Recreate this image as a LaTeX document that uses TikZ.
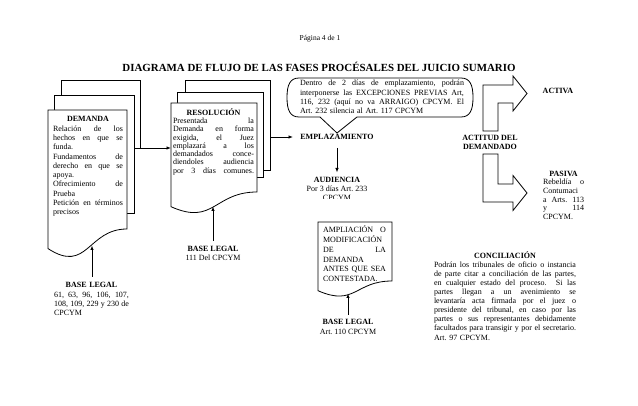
\documentclass[tikz,border=0pt]{standalone}
\usepackage{fontspec}
\setmainfont{Liberation Serif}
\usetikzlibrary{arrows.meta}
\frenchspacing
\newcommand{\jfull}[1]{\makebox[\hsize][s]{\spaceskip=0.25em plus 20em\xspaceskip=0.25em plus 20em\relax #1}}
\newcommand{\jcen}[1]{\makebox[\hsize][c]{#1}}
\newcommand{\jleft}[1]{\makebox[\hsize][l]{#1}}
\tikzset{
  shp/.style={draw=black, fill=white, line width=0.8pt, line join=miter},
  arr/.style={draw=black, line width=0.8pt, -{Latex[length=4.5pt,width=3.5pt]}},
  txt/.style={anchor=north west, inner sep=0pt, outer sep=0pt, align=left},
  one/.style={anchor=base, inner sep=0pt, outer sep=0pt, font=\fontsize{8}{9}\selectfont\bfseries},
}
\begin{document}
\begin{tikzpicture}[x=1pt,y=-1pt]
\fill[white] (0,0) rectangle (638,406);
\useasboundingbox (0,0) rectangle (638,406);

% header
\node[anchor=base, inner sep=0pt] (pag) at (320,40.5) {\fontsize{7.5}{9}\selectfont Página 4 de 1};
\node[anchor=base, inner sep=0pt] (title) at (319,71.8) {\fontsize{10.9}{12}\selectfont\bfseries DIAGRAMA DE FLUJO DE LAS FASES PROCÉSALES DEL JUICIO SUMARIO};

% DEMANDA multidocument
\draw[shp] (61,80) rectangle (140,148);
\draw[shp] (54,95) rectangle (134,213);
\draw[shp] (48,110) -- (127,110) -- (127,229) .. controls (87.5,229) and (87.5,274.3) .. (48,248.6) -- cycle;
\node[txt, text width=70pt, font=\fontsize{8}{9.3}\selectfont] (dem) at (53,115.3) {\strut\jcen{\bfseries DEMANDA}\\
\jfull{Relación de los}\\
\jfull{hechos en que se}\\
\jleft{funda.}\\
\jfull{Fundamentos de}\\
\jfull{derecho en que se}\\
\jleft{apoya.}\\
\jfull{Ofrecimiento de}\\
\jleft{Prueba}\\
\jfull{Petición en términos}\\
\jleft{precisos}};
\coordinate (demout) at (140,148);
\coordinate (demwave) at (92,245.5);

% BASE LEGAL 1
\coordinate (bl1top) at (92,277);
\node[txt, text width=75pt, font=\fontsize{8}{9.3}\selectfont] (bl1) at (54,281.3) {\strut\jcen{\bfseries BASE LEGAL}\\
\jfull{61, 63, 96, 106, 107,}\\
\jfull{108, 109, 229 y 230 de}\\
\jleft{CPCYM}};
\draw[arr] (bl1top) -- (demwave);

% RESOLUCION multidocument
\draw[shp] (185,80) rectangle (270,170);
\draw[shp] (177,92) rectangle (263,177);
\draw[shp] (171,103) -- (257,103) -- (257,192) .. controls (214,192) and (214,225.9) .. (171,206.7) -- cycle;
\node[txt, text width=81pt, font=\fontsize{8}{8.3}\selectfont] (res) at (173,108.3) {\strut\jcen{\bfseries RESOLUCIÓN}\\
\jfull{Presentada la}\\
\jfull{Demanda en forma}\\
\jfull{exigida, el Juez}\\
\jfull{emplazará a los}\\
\jfull{demandados conce-}\\
\jfull{diendoles audiencia}\\
\jfull{por 3 días comunes.}};
\coordinate (resin) at (171,148);
\coordinate (resout) at (270,137);
\coordinate (reswave) at (213,206.5);
\draw[arr] (demout) -- (resin);

% BASE LEGAL 2
\coordinate (bl2top) at (213,241);
\node[anchor=north, inner sep=0pt, align=center, font=\fontsize{8}{9}\selectfont] (bl2) at (213,245.3) {\strut\textbf{BASE LEGAL}\\111 Del CPCYM};
\draw[arr] (bl2top) -- (reswave);

% callout
\draw[shp] (320,117) -- (299,117) .. controls (290,117) and (287,110) .. (287,97.5)
  .. controls (287,85) and (290,78) .. (299,78) -- (461,78)
  .. controls (470,78) and (473,85) .. (473,97.5)
  .. controls (473,110) and (470,117) .. (461,117) -- (357,117) -- (337,133) -- cycle;
\node[txt, text width=164pt, font=\fontsize{8}{9.3}\selectfont] (callout) at (300,79.3) {\strut\jfull{Dentro de 2 días de emplazamiento, podrán}\\
\jfull{interponerse las EXCEPCIONES PREVIAS Art,}\\
\jfull{116, 232 (aquí no va ARRAIGO) CPCYM. El}\\
\jleft{Art. 232 silencia al Art. 117 CPCYM}};

% EMPLAZAMIENTO
\node[one] (empl) at (337,140) {EMPLAZAMIENTO};
\coordinate (emplin) at (293,137);
\coordinate (emplS) at (337,148);
\draw[arr] (resout) -- (emplin);

% AUDIENCIA
\coordinate (audN) at (337,172.5);
\begin{scope}
\clip (290,150) rectangle (390,198.5);
\node[anchor=north, inner sep=0pt, align=center, font=\fontsize{8}{9}\selectfont] (aud) at (337,176.3) {\strut\textbf{AUDIENCIA}\\Por 3 días Art. 233\\CPCYM};
\end{scope}
\draw[arr] (emplS) -- (audN);

% ACTITUD DEL DEMANDADO
\node[anchor=north, inner sep=0pt, align=center, font=\fontsize{8}{9}\selectfont\bfseries] (act) at (490,134.3) {\strut ACTITUD DEL\\DEMANDADO};

% bent arrows
\draw[shp] (483,131) -- (483,85) -- (513,85) -- (513,76) -- (527,93.5) -- (513,111) -- (513,103) -- (498,103) -- (498,131) -- cycle;
\draw[shp] (483,154) -- (498,154) -- (498,184) -- (513,184) -- (513,175.5) -- (527,193) -- (513,210.5) -- (513,202) -- (483,202) -- cycle;

\node[one] (activa) at (558,93.8) {ACTIVA};
\node[txt, text width=41pt, font=\fontsize{8}{8.6}\selectfont] (pasiva) at (543,170.3) {\strut\jcen{\bfseries PASIVA}\\
\jfull{Rebeldía o}\\
\jleft{Contumaci}\\
\jfull{a Arts. 113}\\
\jfull{y 114}\\
\jleft{CPCYM.}};

% AMPLIACION
\draw[shp] (318,222) -- (392,222) -- (392,281) .. controls (355,281) and (355,307) .. (318,290.7) -- cycle;
\node[txt, text width=63pt, font=\fontsize{8}{9.6}\selectfont] (ampl) at (323,225.3) {\strut\jfull{AMPLIACIÓN O}\\
\jleft{MODIFICACIÓN}\\
\jfull{DE LA}\\
\jleft{DEMANDA}\\
\jfull{ANTES QUE SEA}\\
\jleft{CONTESTADA.}};
\coordinate (amplwave) at (348,293.5);
\coordinate (bl3top) at (348,315);
\node[anchor=north, inner sep=0pt, align=center, font=\fontsize{8}{10}\selectfont] (bl3) at (348,317.3) {\strut\textbf{BASE LEGAL}\\Art. 110 CPCYM};
\draw[arr] (bl3top) -- (amplwave);

% CONCILIACION
\node[txt, text width=142pt, font=\fontsize{8}{9.1}\selectfont] (conc) at (434,251.3) {\strut\jcen{\bfseries CONCILIACIÓN}\\
\jfull{Podrán los tribunales de oficio o instancia}\\
\jfull{de parte citar a conciliación de las partes,}\\
\jfull{en cualquier estado del proceso.\ \ Si las}\\
\jfull{partes llegan a un avenimiento se}\\
\jfull{levantaría acta firmada por el juez o}\\
\jfull{presidente del tribunal, en caso por las}\\
\jfull{partes o sus representantes debidamente}\\
\jfull{facultados para transigir y por el secretario.}\\
\jleft{Art. 97 CPCYM.}};
\end{tikzpicture}
\end{document}
